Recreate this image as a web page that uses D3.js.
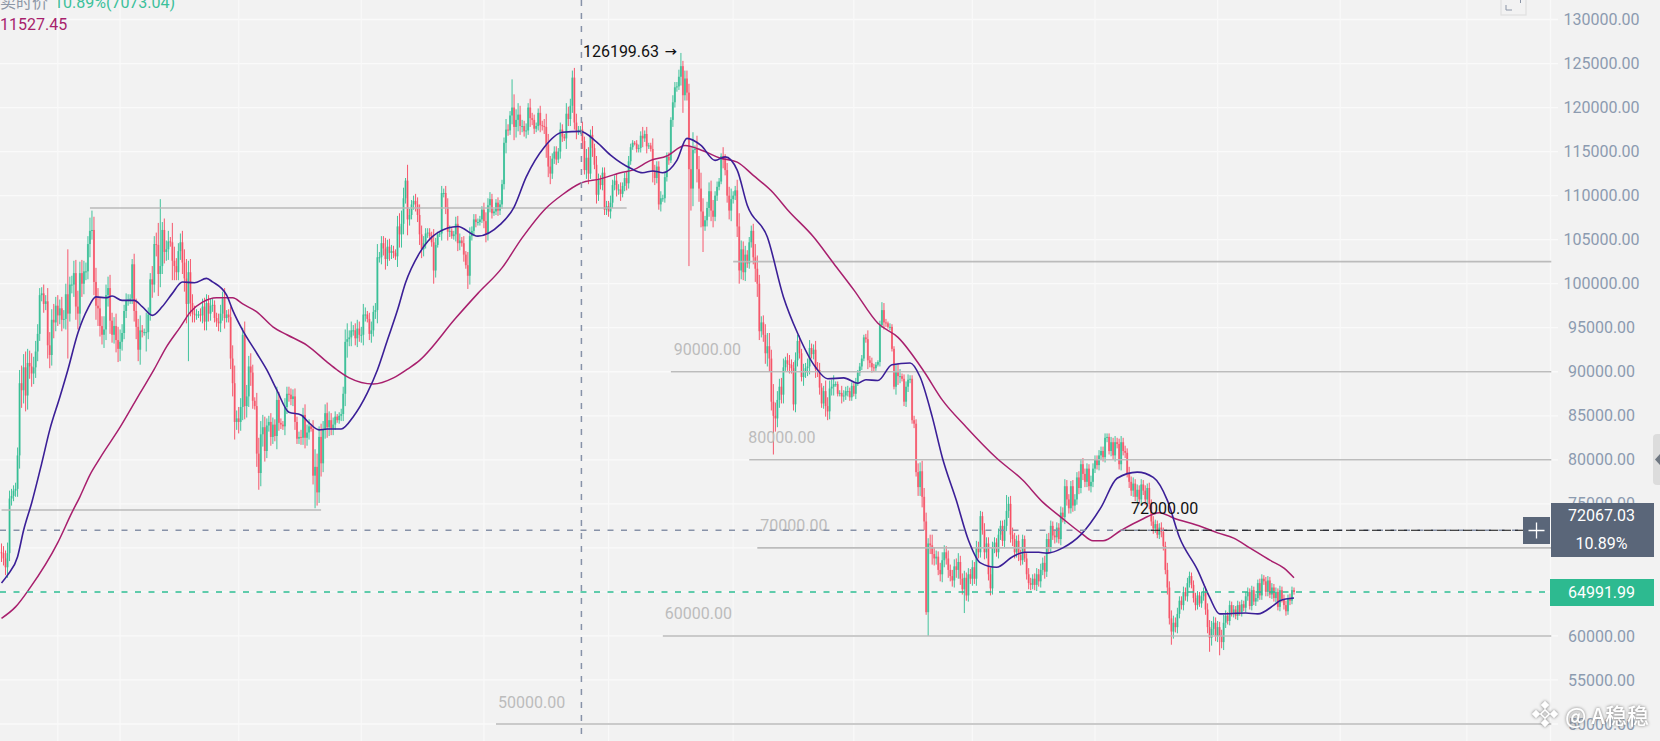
<!DOCTYPE html>
<html><head><meta charset="utf-8">
<script src="https://cdn.jsdelivr.net/npm/d3@7"></script>
<style>html,body{margin:0;padding:0;background:#f2f2f2;overflow:hidden}text{font-family:Roboto,"Noto Sans CJK SC",sans-serif}</style>
</head><body><svg id="c" width="1660" height="741"></svg>
<script>
// Daily closes, in thousands of USDT
const closes=[
69.4,68.8,67.8,69.4,75.6,75.9,76.5,76.7,80.5,88.7,87.9,90.5,87.3,91.0,90.6,89.8,90.5,92.3,94.3,98.7,98.9,97.7,98.0,93.0,91.9,95.9,95.6,97.5,96.4,
97.2,95.9,96.0,98.8,96.6,99.9,99.9,101.2,97.4,96.6,101.2,100.0,101.4,101.4,104.5,106.0,106.1,100.2,97.5,97.2,95.2,94.2,94.8,98.7,99.5,95.8,94.2,95.2,93.6,92.6,93.4,
94.4,96.9,98.1,98.2,98.3,102.2,96.9,95.1,92.5,94.7,94.5,94.5,94.5,96.5,100.5,99.9,104.5,104.4,101.1,102.0,106.1,103.6,103.9,104.8,104.7,102.6,102.0,101.3,103.7,104.7,102.4,
100.6,97.7,101.3,97.8,96.6,96.5,96.5,96.5,96.4,97.4,95.7,97.8,96.6,97.5,97.6,96.1,95.7,95.5,96.6,98.3,96.1,96.5,96.2,91.5,88.7,84.3,84.7,84.3,
86.0,94.2,86.1,87.2,90.6,89.9,86.7,86.1,80.7,78.5,82.9,83.7,81.0,83.9,84.3,82.6,84.0,82.7,86.8,84.2,84.0,83.8,86.0,87.5,87.4,86.9,87.2,84.3,82.4,82.6,82.5,
85.1,82.5,83.1,83.8,83.5,78.2,79.2,76.3,82.6,79.6,83.4,85.3,83.7,84.5,83.6,84.0,84.9,84.5,85.0,85.2,87.5,93.4,93.7,93.9,94.7,94.7,93.8,94.9,94.2,94.2,
96.5,96.5,96.0,94.3,94.7,96.8,97.0,103.0,103.0,104.6,104.0,102.8,104.2,103.5,103.7,103.5,103.1,106.5,105.6,106.8,109.7,111.7,107.3,107.8,109.0,109.4,109.0,107.8,105.6,103.9,104.6,
105.7,105.8,105.4,104.7,101.5,104.4,105.6,105.7,110.3,110.3,108.7,105.9,106.0,105.4,105.6,106.8,104.6,104.9,104.6,103.3,102.1,100.9,105.4,106.0,107.3,107.0,107.0,107.3,108.4,107.1,
105.7,108.9,109.6,108.0,108.2,109.2,108.3,109.0,111.3,116.0,117.5,117.4,119.1,120.0,117.8,118.6,119.2,117.9,117.9,117.3,117.4,120.0,118.8,118.6,117.6,117.9,119.4,118.0,117.9,117.8,115.8,
113.3,112.5,114.2,115.0,114.1,115.0,117.5,116.7,116.5,119.3,118.7,120.2,123.4,118.3,117.4,117.4,117.5,116.2,112.9,114.3,112.5,116.9,115.4,113.5,110.1,111.8,111.2,112.6,108.4,108.8,108.2,
109.2,111.2,111.7,110.7,110.7,110.2,111.1,112.0,111.4,113.9,115.5,116.0,115.9,115.3,115.4,116.8,116.5,117.0,115.6,115.7,115.3,112.7,112.0,113.3,109.0,109.7,109.7,112.1,114.4,114.0,
118.6,120.6,122.3,122.4,123.5,124.7,121.4,123.3,121.7,113.0,110.8,115.2,115.3,113.0,110.8,108.2,106.5,107.2,108.6,110.5,108.3,107.6,110.0,111.0,111.6,114.5,114.1,112.9,110.0,108.3,109.6,
110.0,110.6,106.5,101.5,103.9,101.3,103.3,102.3,104.7,106.0,103.0,101.7,100.0,94.6,95.6,94.2,92.1,92.9,91.5,86.6,85.0,84.7,86.8,88.3,87.4,90.5,91.3,90.9,90.8,90.4,
86.3,91.3,93.5,92.1,89.4,89.9,90.4,90.6,92.7,92.0,92.5,90.3,90.2,88.2,86.4,87.8,86.1,85.5,88.1,88.3,88.6,88.6,87.5,87.6,87.2,87.3,87.8,87.8,87.1,88.4,87.5,
88.7,89.9,90.6,91.5,93.9,93.7,91.3,91.0,90.5,90.4,90.8,91.1,95.3,97.0,95.6,95.5,95.1,95.1,92.6,88.3,90.0,89.5,89.5,89.2,86.6,88.3,89.1,89.2,84.5,84.1,78.6,
76.9,78.7,75.8,73.0,62.7,70.5,70.3,69.3,68.8,69.0,67.5,67.0,68.6,69.5,68.8,67.5,66.8,66.3,67.9,67.5,68.4,66.5,65.3,66.6,64.6,67.0,66.5,67.8,66.5,70.0,69.5,73.6,72.0,69.5,70.5,67.0,65.4,
70.0,70.6,69.5,71.5,72.5,70.8,72.5,74.2,75.0,71.5,71.0,69.5,70.8,69.2,68.6,71.0,68.8,67.0,66.0,65.8,66.5,65.8,67.0,66.2,67.5,68.3,67.3,71.0,70.0,72.5,71.4,71.2,72.3,71.0,74.0,73.5,77.0,75.5,74.5,77.0,74.8,75.5,78.0,76.8,79.5,78.4,77.5,79.0,77.0,77.5,79.0,80.0,
79.4,80.5,81.0,80.3,82.5,82.6,81.0,82.0,80.5,82.0,81.8,79.5,82.0,81.0,80.8,78.5,77.5,76.5,77.3,75.8,76.6,75.5,77.2,76.5,75.5,76.8,75.0,73.0,72.2,72.7,71.5,72.3,71.8,70.2,67.5,65.5,62.0,60.5,61.5,61.0,62.5,64.0,63.5,65.0,64.5,66.0,66.8,65.8,64.3,63.5,64.6,63.7,64.5,65.0,63.0,61.0,59.8,60.8,61.5,60.0,61.0,60.0,59.3,61.5,
62.3,61.7,63.5,62.6,63.0,62.3,63.5,62.7,63.6,63.2,64.5,65.0,63.4,65.2,63.9,64.3,66.0,64.6,66.5,66.2,65.0,66.3,64.7,65.5,64.3,65.0,63.3,65.2,64.2,63.5,62.8,64.3,64.0,65.2,64.99
];
// Wick length per candle, in thousands
const wicks=[
1,.8,.9,1.2,.9,.8,.6,.7,.9,1.5,2,1.5,1.8,1.6,1.4,1.5,1.2,1.2,1.1,.8,.7,1,.7,1.5,1.5,1.2,1.8,1,1.2,
1,1.3,1,1.2,1,.9,1,1.4,1.5,1.8,1.3,1.5,1.2,1,.9,1.5,1,1.5,1.6,2,1.2,1.1,1.5,1.2,1.3,1.5,.9,1,1.4,1.5,1.4,
1,.7,.8,.6,.5,.6,1.2,1.4,.9,1.7,.6,.4,2.2,.8,.7,1.5,.9,1.3,2.5,1.5,.9,1.3,1,1.2,.5,2.2,1.6,.9,.9,1,1.3,
1.5,2.2,1.3,1.5,1,.9,.6,.4,.7,.9,1,1,.9,.8,.7,.5,.6,.9,1,.8,1.2,.5,.6,1.2,1.5,2,.9,1.3,
1,1.5,1.5,1.3,1.2,1.5,.9,.4,1.5,1.8,1.5,1.4,1.2,.8,.7,1,.8,.6,1.5,.9,.5,.4,1,.8,.8,.7,.8,.9,.6,.6,.8,
.8,1.2,.9,.8,.3,1,2,1.5,1.2,1.5,1,1,1.2,1,.8,.8,.6,.3,.4,.6,.8,1.4,1.8,.8,1,.6,.8,1,.8,.9,
1.2,.8,.4,.7,1,.7,.8,1.5,.6,.8,.8,1.2,.8,.9,.7,.6,.4,1.2,1.5,1.5,1.2,.6,1.8,.7,.5,.6,.8,.8,1.2,1,.8,
.6,.5,.5,.5,1.5,.8,.3,.3,.8,.5,.8,1,.6,.3,.4,.8,.9,.8,.4,.8,.4,1.5,1,.5,.6,.6,.4,.4,.4,.8,
1,.8,.8,.6,.3,.4,.6,.5,.5,.6,1.2,.6,.5,1,1.5,1.2,1.3,1,.7,.6,.8,.5,1,.6,.6,.4,.5,.8,.5,.8,1.5,
1.2,1.2,.6,.6,.6,.4,.8,.6,.3,1.2,.8,.8,.8,.8,1,.5,.4,.9,.5,1,1.2,.6,1,.5,1,.7,.5,.6,.6,.6,.6,
.8,.6,.6,.8,.6,.8,.4,.6,.8,.6,.4,.3,.2,.4,.4,.5,1,.4,.8,.3,.3,1.2,.8,.6,.6,.8,.4,.5,.5,.5,
.3,.8,.6,.5,.4,1,2,.6,.9,1,2.5,2,.4,1.5,1.5,1.8,1.5,.5,.7,1,1.2,1.2,.5,.6,.4,.3,1,.6,.8,1,1.2,
.5,.5,1.2,1.5,1,.9,1,.5,.6,.6,.8,1.5,1.5,1,.7,.8,1.2,1.5,1.5,1,2,1.5,1,.9,1,1,.4,.8,1,.6,.7,
.9,.7,.6,.5,1,.6,.9,.9,.5,.6,1,.8,.8,.5,.6,1.2,1,.9,.8,1,.3,.3,.3,.8,.6,.5,.6,.4,.4,.3,.6,
.3,.4,.4,.3,.4,1,.5,.6,.4,.3,.2,.5,.3,.8,.4,.2,.4,.3,.3,.9,1,.8,.3,.5,.6,.6,.4,.4,.5,.5,1,
1,1.2,1,1,.6,1,1.2,.8,.7,.6,.8,.9,.8,.7,.9,.6,.7,.8,.9,1,.7,.6,.8,.6,.7,.6,.8,.6,.8,.7,.6,.5,.8,.7,.7,.8,.7,
.6,.5,.7,.6,.6,.7,.6,.8,.9,.8,.7,.6,.7,.6,.5,.4,.6,.7,.6,.5,.6,.7,.6,.7,.6,.8,.6,.7,.6,.5,.7,.6,.5,.7,.6,.8,.7,.6,.6,.7,.6,.6,.7,.6,.7,.6,.6,.5,.7,.6,.5,.5,
.6,.5,.5,.6,.5,.4,.6,.5,.7,.5,.6,.7,.5,.6,.5,.7,.6,.7,.5,.6,.5,.6,.5,.6,.5,.6,.5,.6,.5,.4,.5,.6,.5,.5,.8,.7,.9,.8,.6,.7,.5,.5,.6,.5,.6,.5,.4,.5,.6,.5,.4,.5,.5,.6,.7,.8,.9,.7,.6,.7,.6,.7,.9,.6,
.4,.5,.4,.5,.4,.5,.4,.5,.4,.5,.5,.4,.5,.4,.5,.4,.5,.5,.4,.5,.5,.4,.5,.4,.5,.4,.5,.4,.5,.5,.4,.5,.4,.3,.3
];
// Long wicks
const highDays=[33,45,79,120,201,254,285,337,338,339,340,438,500,549,550];
const highValues=[103.9,108.3,109.6,95.0,112.0,123.2,124.5,124.3,126.2,125.3,124.2,97.9,76.0,83.0,83.0];
const lowDays=[33,68,93,128,156,342,349,384,460,461,479,582,601,606];
const lowValues=[91.5,91.2,91.2,76.6,74.5,102.0,103.6,80.6,62.4,60.0,62.6,59.0,58.2,57.8];
// Moving averages
const fastDays=[0,3,8,11,15,20,24,29,33,38,43,47,52,55,60,66,70,75,80,85,90,96,102,105,112,115,120,127,132,137,143,149,153,158,162,169,175,182,187,192,197,201,208,217,227,237,248,255,261,270,279,288,296,303,313,319,324,329,336,341,348,355,360,366,371,381,389,396,405,411,419,426,430,436,443,452,457,463,468,475,481,487,495,503,509,516,520,528,537,547,555,565,573,580,586,595,601,606,619,625,633,636,643];
const fastValues=[66.0,66.9,69.0,72.0,75.1,79.6,83.4,87.1,90.2,94.4,97.2,98.5,98.4,98.6,98.1,98.1,97.4,96.4,97.4,98.9,100.2,100.1,100.6,100.2,98.7,97.0,94.7,92.1,90.2,87.9,85.4,85.1,84.2,83.4,83.5,83.5,84.9,87.6,90.2,93.6,97.0,100.1,103.5,105.8,106.5,105.4,106.7,108.7,112.1,115.5,117.2,117.3,116.1,114.6,113.1,112.6,112.8,112.6,114.0,116.5,115.7,114.0,114.4,112.9,108.9,105.3,98.5,94.4,90.5,89.2,89.3,88.7,89.1,89.0,90.8,91.0,89.4,84.9,80.3,75.4,70.9,68.3,67.8,69.0,69.5,69.5,69.4,70.0,71.5,74.6,77.9,78.6,78.0,75.4,71.2,67.5,64.4,62.5,62.6,62.5,63.5,64.0,64.3];
const slowDays=[0,7,14,28,35,39,44,49,59,69,76,82,89,94,100,107,115,120,127,135,142,152,162,167,173,185,195,202,208,226,237,249,259,271,279,288,298,308,314,323,331,340,349,357,366,374,384,391,404,414,424,436,446,459,468,480,495,508,518,527,537,543,548,557,567,576,583,597,605,613,621,631,638,643];
const slowValues=[62.0,63.3,65.4,70.6,74.0,75.8,78.3,80.2,83.7,87.6,90.3,92.8,95.1,96.8,97.9,98.4,98.4,97.7,96.8,95.1,94.2,93.0,91.1,90.2,89.3,88.6,89.3,90.3,91.3,96.1,98.9,101.8,105.2,108.6,110.1,111.4,111.9,112.6,112.9,114.0,114.5,115.7,115.1,114.3,113.8,112.3,110.3,108.4,105.3,102.3,99.3,95.5,93.9,90.0,86.8,83.7,80.2,77.7,75.2,73.5,71.7,70.8,70.8,72.0,73.2,74.0,73.4,72.4,71.7,71.1,70.0,68.6,67.7,66.6];
// Axis and annotations
const priceTicks=[50000,55000,60000,65000,70000,75000,80000,85000,90000,95000,100000,105000,110000,115000,120000,125000,130000];
const gridDays=[28,59,118,179,240,302,364,424,483,544,605,666,729];
const hLevels=[108600,74300,102500,90000,80000,70000,60000,50000];
const hStarts=[44,0,364,333,372,376,329,246];
const hEnds=[311,159,771,771,771,771,771,771];
const levelLabels=["90000.00","80000.00","70000.00","60000.00","50000.00"];
const levelValues=[90000,80000,70000,60000,50000];
const levelStartDays=[333,370,376,328.5,245.5];
const lastPrice=64991.99, crossPrice=72067.03, drawnLevel=72000, crossDay=288.5;

const W=1660,H=741,axisX=1550;
const x=d3.scaleLinear().domain([0,643]).range([1.5,1294]);
const y=d3.scaleLinear().domain([50000,130000]).range([724,19.5]);
const svg=d3.select("#c");
svg.append("rect").attr("width",W).attr("height",H).attr("fill","#f2f2f2");

// grid
svg.append("g").selectAll("line").data(priceTicks).join("line")
 .attr("x1",0).attr("x2",1558).attr("y1",d=>y(d)).attr("y2",d=>y(d)).attr("stroke","#fafafa").attr("stroke-width",1.3);
svg.append("g").selectAll("line").data(gridDays).join("line")
 .attr("x1",d=>x(d)).attr("x2",d=>x(d)).attr("y1",0).attr("y2",H).attr("stroke","#f9f9f9").attr("stroke-width",1.2);
svg.append("line").attr("x1",axisX+.5).attr("x2",axisX+.5).attr("y1",0).attr("y2",H).attr("stroke","#f9f9f9").attr("stroke-width",1.2);

// candles
const candles=closes.map((c,i)=>{const o=i?closes[i-1]:69.5;return{i,o:o*1000,c:c*1000,h:(Math.max(o,c)+wicks[i]||c)*1000,l:(Math.min(o,c)-wicks[i]||c)*1000};});
highDays.forEach((d,k)=>{candles[d].h=highValues[k]*1000;});
lowDays.forEach((d,k)=>{candles[d].l=lowValues[k]*1000;});
const GREEN="#2ebd92",RED="#f6465d";
const gc=svg.append("g");
gc.selectAll("rect.b").data(candles).join("rect").attr("class","b")
 .attr("x",d=>x(d.i)-1).attr("width",2)
 .attr("y",d=>y(Math.max(d.o,d.c))).attr("height",d=>Math.max(1,Math.abs(y(d.o)-y(d.c))))
 .attr("fill",d=>d.c>=d.o?"#62c9aa":"#f5838f");
gc.selectAll("line.w").data(candles).join("line").attr("class","w")
 .attr("x1",d=>x(d.i)).attr("x2",d=>x(d.i)).attr("y1",d=>y(d.h)).attr("y2",d=>y(d.l))
 .attr("stroke",d=>d.c>=d.o?GREEN:RED).attr("stroke-width",.9);

// drawn horizontal levels
svg.append("g").selectAll("line").data(hLevels).join("line")
 .attr("x1",(d,k)=>x(hStarts[k])).attr("x2",(d,k)=>x(hEnds[k])).attr("y1",d=>y(d)).attr("y2",d=>y(d))
 .attr("stroke","#b9b9b9").attr("stroke-width",1.6).attr("opacity",.95);
svg.append("g").selectAll("text").data(levelLabels).join("text")
 .attr("x",(d,k)=>x(levelStartDays[k])+3).attr("y",(d,k)=>y(levelValues[k])-16.5)
 .attr("font-size",16).attr("fill","#bcbcbc").text(d=>d);

// moving averages
const line=d3.line().curve(d3.curveMonotoneX);
svg.append("path").attr("d",line(slowDays.map((d,k)=>[x(d),y(slowValues[k]*1000)]))).attr("fill","none").attr("stroke","#a81f6d").attr("stroke-width",1.5);
svg.append("path").attr("d",line(fastDays.map((d,k)=>[x(d),y(fastValues[k]*1000)]))).attr("fill","none").attr("stroke","#3b1f97").attr("stroke-width",1.6);

// dashed guides
svg.append("line").attr("x1",0).attr("x2",1524).attr("y1",y(drawnLevel)).attr("y2",y(drawnLevel)).attr("stroke","#8792a8").attr("stroke-width",1.3).attr("stroke-dasharray","6 7.5");
svg.append("line").attr("x1",1125).attr("x2",1524).attr("y1",y(drawnLevel)).attr("y2",y(drawnLevel)).attr("stroke","#111").attr("stroke-width",1.2).attr("stroke-dasharray","9 4");
svg.append("line").attr("x1",0).attr("x2",1558).attr("y1",y(lastPrice)).attr("y2",y(lastPrice)).attr("stroke","#2ebd92").attr("stroke-width",1.5).attr("stroke-dasharray","6 7.5");
svg.append("line").attr("x1",x(crossDay)).attr("x2",x(crossDay)).attr("y1",0).attr("y2",H).attr("stroke","#8792a8").attr("stroke-width",1.5).attr("stroke-dasharray","6 7");

// annotations
svg.append("text").attr("x",x(crossDay)+1.5).attr("y",57).attr("font-size",16).attr("fill","#111").text("126199.63");
svg.append("text").attr("x",665).attr("y",57).attr("font-size",12).attr("font-weight",700).attr("fill","#111").text("→");
svg.append("text").attr("x",1131).attr("y",y(drawnLevel)-16.5).attr("font-size",16).attr("fill","#111").text("72000.00");
svg.append("text").attr("x",0).attr("y",8).attr("font-size",16).attr("fill","#8d97a6").text("卖时价");
svg.append("text").attr("x",54).attr("y",8).attr("font-size",16).attr("fill","#3cc09a").text("10.89%(7073.04)");
svg.append("text").attr("x",0).attr("y",30).attr("font-size",16).attr("fill","#a81f6d").text("11527.45");

// price axis
const axis=svg.append("g").attr("transform","translate(1601.5,0)")
 .call(d3.axisRight(y).tickValues(priceTicks).tickSize(0).tickPadding(0).tickFormat(d=>d.toFixed(2)));
axis.select(".domain").remove();
axis.selectAll("text").attr("x",0).attr("text-anchor","middle").attr("font-size",16).attr("fill","#8c9bb0").style("font-family","Roboto");

// top-right control
svg.append("rect").attr("x",1501).attr("y",-6).attr("width",25).attr("height",21).attr("fill","#f2f2f2").attr("stroke","#e0e0e0").attr("stroke-width",1.2);
svg.append("path").attr("d","M1506 5V10H1512M1520.5 0V3").attr("fill","none").attr("stroke","#8a94a6").attr("stroke-width",1);

// price boxes
const gb=svg.append("g");
gb.append("rect").attr("x",1551).attr("y",503).attr("width",103).attr("height",54).attr("fill","#5a6679");
gb.append("text").attr("x",1601.5).attr("y",521).attr("text-anchor","middle").attr("font-size",16).attr("fill","#fff").text(crossPrice.toFixed(2));
gb.append("text").attr("x",1601.5).attr("y",548.5).attr("text-anchor","middle").attr("font-size",16).attr("fill","#fff").text("10.89%");
gb.append("rect").attr("x",1523).attr("y",517).attr("width",27).attr("height",27).attr("fill","#5a6679");
gb.append("path").attr("d","M1536.5 522.5V538.5M1528.5 530.5H1544.5").attr("stroke","#fff").attr("stroke-width",1.3);
gb.append("rect").attr("x",1550).attr("y",579).attr("width",104).attr("height",27).attr("fill","#2dba90");
gb.append("text").attr("x",1601.5).attr("y",598).attr("text-anchor","middle").attr("font-size",16).attr("fill","#fff").text(lastPrice.toFixed(2));

// side handle
svg.append("path").attr("d","M1660 434H1657Q1653 434 1653 438V481Q1653 485 1657 485H1660Z").attr("fill","#dcdcdc");
svg.append("path").attr("d","M1660 454L1655 459.5L1660 465Z").attr("fill","#6f7782");

// watermark
const wm=svg.append("g").style("filter","drop-shadow(0 0 1.5px #777)");
[[0,-9,6],[0,9,6],[-9,0,6],[9,0,6]].forEach(p=>{
  wm.append("rect").attr("x",-p[2]/2).attr("y",-p[2]/2).attr("width",p[2]).attr("height",p[2]).attr("fill","#fff")
    .attr("transform",`translate(${1545+p[0]},${714+p[1]}) rotate(45)`);
});
wm.append("rect").attr("x",-3).attr("y",-3).attr("width",6).attr("height",6).attr("fill","none").attr("stroke","#fff").attr("stroke-width",1.6)
  .attr("transform","translate(1545,714) rotate(45)");
wm.append("text").attr("x",1565).attr("y",724).attr("font-size",22).attr("font-weight",500).attr("fill","#fff").style("font-family","'Noto Sans CJK SC'").text("@ A稳稳");
</script></body></html>
